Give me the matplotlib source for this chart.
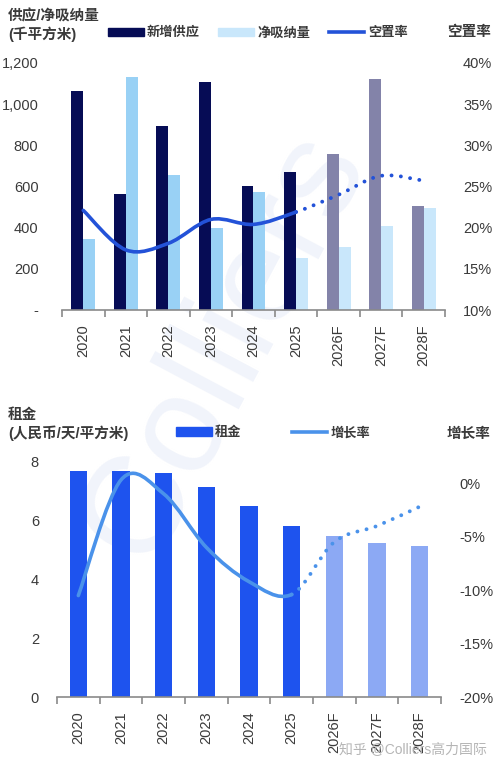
import numpy as np
import matplotlib
matplotlib.use("Agg")
import matplotlib.pyplot as plt
from matplotlib.path import Path
from matplotlib.patches import PathPatch, Patch
from matplotlib.lines import Line2D
from matplotlib.ticker import FuncFormatter

plt.rcParams['font.family'] = ['Liberation Sans', 'Noto Sans CJK SC']
plt.rcParams['axes.unicode_minus'] = False

# data
years = ['2020', '2021', '2022', '2023', '2024', '2025', '2026F', '2027F', '2028F']
supply = [1065, 562, 896, 1108, 601, 669, 758, 1122, 507]
absorption = [345, 1130, 656, 398, 575, 253, 306, 408, 497]
vacancy = [0.221, 0.173, 0.181, 0.210, 0.204, 0.219, 0.240, 0.263, 0.257]
rent = [7.67, 7.69, 7.63, 7.15, 6.50, 5.83, 5.48, 5.25, 5.14]
growth = [-0.105, 0.003, -0.010, -0.060, -0.092, -0.104, -0.055, -0.040, -0.022]
n_actual = 6  # 2020-2025 actual, rest forecast

vac_ticks = [0.10, 0.15, 0.20, 0.25, 0.30, 0.35, 0.40]
grow_ticks = [-0.20, -0.15, -0.10, -0.05, 0.0]

NAVY = '#060C55'
NAVY_F = '#8383A9'
SKY = '#99D1F5'
SKY_F = '#C9E7FB'
VAC = '#2352D8'
RENT = '#1E53EE'
RENT_F = '#8CA9F4'
GROW = '#4A92EA'
TXT = '#3A3A3A'

pct = FuncFormatter(lambda v, p: f'{int(round(v * 100))}%')


def smooth_segments(xs, ys):
    # excel-like smoothed line: one cubic bezier per segment
    n = len(xs)
    segs = []
    for i in range(n - 1):
        x0, y0 = (xs[i - 1], ys[i - 1]) if i > 0 else (xs[i], ys[i])
        x3, y3 = (xs[i + 2], ys[i + 2]) if i + 2 < n else (xs[i + 1], ys[i + 1])
        c1 = (xs[i] + (xs[i + 1] - x0) / 6, ys[i] + (ys[i + 1] - y0) / 6)
        c2 = (xs[i + 1] - (x3 - xs[i]) / 6, ys[i + 1] - (y3 - ys[i]) / 6)
        segs.append([(xs[i], ys[i]), c1, c2, (xs[i + 1], ys[i + 1])])
    return segs


def draw_smooth(ax, ys, color, split):
    xs = list(range(len(ys)))
    segs = smooth_segments(xs, ys)
    for part, style in ((segs[:split - 1], 'solid'), (segs[split - 1:], 'dot')):
        verts = [part[0][0]]
        codes = [Path.MOVETO]
        for s in part:
            verts += s[1:]
            codes += [Path.CURVE4] * 3
        if style == 'solid':
            pp = PathPatch(Path(verts, codes), fill=False, edgecolor=color,
                           lw=2.6, capstyle='round', zorder=5)
        else:
            pp = PathPatch(Path(verts, codes), fill=False, edgecolor=color,
                           lw=2.8, linestyle=(0, (0.01, 2.4)), capstyle='round', zorder=5)
        ax.add_patch(pp)


def style_axis(ax, pad_left):
    for s in ['top', 'left', 'right']:
        ax.spines[s].set_visible(False)
    ax.spines['bottom'].set_color('#8A8A8A')
    ax.spines['bottom'].set_linewidth(1.2)
    ax.set_xlim(-0.5, len(years) - 0.5)
    ax.set_xticks(range(len(years)))
    ax.set_xticklabels(years, rotation=90, fontsize=10.5, color=TXT)
    ax.set_xticks(np.arange(-0.5, len(years), 1), minor=True)
    ax.tick_params(axis='x', which='major', length=0, pad=10)
    ax.tick_params(axis='x', which='minor', length=5, color='#8A8A8A', width=1.2, direction='out')
    ax.tick_params(axis='y', length=0, labelsize=10.5, labelcolor=TXT, pad=pad_left)
    ax.set_facecolor('none')


fig = plt.figure(figsize=(5, 7.7), dpi=100)

# faint watermark behind everything
fig.text(0.45, 0.55, 'Colliers', fontsize=100, rotation=62, color='#F1F4FB',
         ha='center', va='center', zorder=-5)

# top chart
x = np.arange(len(years))
ax1 = fig.add_axes([0.124, 0.5974, 0.766, 0.3208])
sup_colors = [NAVY] * n_actual + [NAVY_F] * (len(years) - n_actual)
abs_colors = [SKY] * (n_actual - 1) + [SKY_F] * (len(years) - n_actual + 1)
ax1.bar(x - 0.14, supply, width=0.28, color=sup_colors, zorder=2)
ax1.bar(x + 0.14, absorption, width=0.28, color=abs_colors, zorder=2)
ax1.set_ylim(0, 1200)
ax1.set_yticks(range(0, 1201, 200))
ax1.yaxis.set_major_formatter(FuncFormatter(lambda v, p: '-' if v == 0 else f'{int(v):,}'))
style_axis(ax1, 17)

ax1r = ax1.twinx()
ax1r.set_ylim(0.10, 0.40)
ax1r.set_yticks(vac_ticks)
ax1r.yaxis.set_major_formatter(pct)
for s in ax1r.spines.values():
    s.set_visible(False)
ax1r.tick_params(axis='y', length=0, labelsize=10.5, labelcolor=TXT, pad=13)
draw_smooth(ax1r, vacancy, VAC, n_actual)

fig.text(8 / 500, 1 - 16 / 770, '供应/净吸纳量', fontsize=10.5, fontweight='bold', color=TXT, va='center')
fig.text(8 / 500, 1 - 34 / 770, '(千平方米)', fontsize=10.5, fontweight='bold', color=TXT, va='center')
fig.text(447 / 500, 1 - 32 / 770, '空置率', fontsize=10.5, fontweight='bold', color=TXT, va='center')

h1 = [Patch(color=NAVY, label='新增供应'),
      Patch(color=SKY_F, label='净吸纳量'),
      Line2D([], [], color=VAC, lw=2.6, label='空置率')]
fig.legend(handles=h1, loc='center left', bbox_to_anchor=(108 / 500, 1 - 33 / 770), ncol=3,
           frameon=False, handlelength=2.7, handleheight=0.6, handletextpad=0.25,
           columnspacing=1.4, borderpad=0, borderaxespad=0,
           prop={'size': 9.5, 'weight': 'bold'}, labelcolor=TXT)

# bottom chart
ax2 = fig.add_axes([0.114, 0.0944, 0.768, 0.306])
rent_colors = [RENT] * n_actual + [RENT_F] * (len(years) - n_actual)
ax2.bar(x, rent, width=0.4, color=rent_colors, zorder=2)
ax2.set_ylim(0, 8)
ax2.set_yticks(range(0, 9, 2))
style_axis(ax2, 13)

ax2r = ax2.twinx()
ax2r.set_ylim(-0.20, 0.02)
ax2r.set_yticks(grow_ticks)
ax2r.yaxis.set_major_formatter(pct)
for s in ax2r.spines.values():
    s.set_visible(False)
ax2r.tick_params(axis='y', length=0, labelsize=10.5, labelcolor=TXT, pad=13)
draw_smooth(ax2r, growth, GROW, n_actual)

fig.text(8 / 500, 1 - 415 / 770, '租金', fontsize=10.5, fontweight='bold', color=TXT, va='center')
fig.text(8 / 500, 1 - 433 / 770, '(人民币/天/平方米)', fontsize=10.5, fontweight='bold', color=TXT, va='center')
fig.text(447 / 500, 1 - 434 / 770, '增长率', fontsize=10.5, fontweight='bold', color=TXT, va='center')

h2 = [Patch(color=RENT, label='租金'),
      Line2D([], [], color=GROW, lw=2.6, label='增长率')]
fig.legend(handles=h2, loc='center left', bbox_to_anchor=(176 / 500, 1 - 433 / 770), ncol=2,
           frameon=False, handlelength=2.7, handleheight=0.6, handletextpad=0.25,
           columnspacing=3.8, borderpad=0, borderaxespad=0,
           prop={'size': 9.5, 'weight': 'bold'}, labelcolor=TXT)

fig.text(487 / 500, 1 - 749 / 770, '知乎 @Colliers高力国际', fontsize=10, color='#B5B5B5',
         ha='right', va='center')

fig.savefig('out.png', dpi=100)
